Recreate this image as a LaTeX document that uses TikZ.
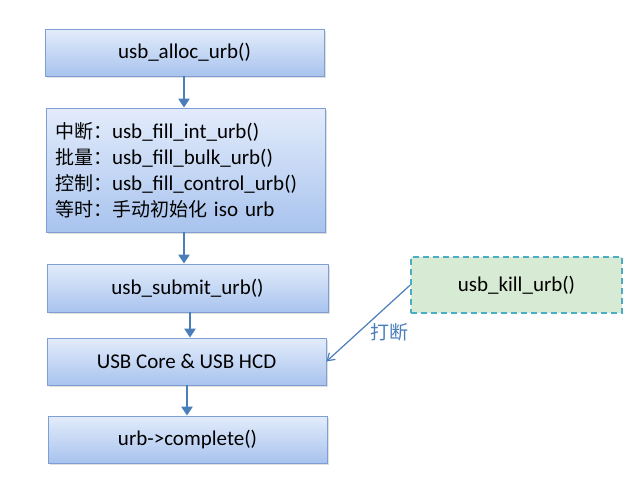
\documentclass[tikz,border=0pt]{standalone}
\usepackage{fontspec}
\setmainfont{Carlito}
\newfontfamily\cjk{Noto Sans CJK SC}
\usetikzlibrary{arrows.meta,shadows}
\definecolor{boxtop}{HTML}{E3ECFB}
\definecolor{boxbot}{HTML}{A8C3EE}
\definecolor{boxline}{HTML}{7F9FD3}
\definecolor{arr}{HTML}{4A7EBB}
\definecolor{killfill}{HTML}{D7EAD3}
\definecolor{killline}{HTML}{4BACC6}
\begin{document}
\begin{tikzpicture}[x=1pt,y=-1pt,
  box/.style={draw=boxline,line width=0.8pt,top color=boxtop,bottom color=boxbot,
    drop shadow={opacity=0.25,shadow xshift=1.5pt,shadow yshift=-1.5pt},
    minimum width=279pt,minimum height=47pt,inner sep=0pt,font=\fontsize{21}{24}\selectfont},
  flow/.style={draw=arr,line width=2.5pt,-{Triangle[length=9pt,width=11pt]}}]
\useasboundingbox (0,0) rectangle (640,490);
\node[box] (alloc) at (184.5,52.5) {usb\_alloc\_urb()};
\node[box,minimum height=124pt,align=left,text width=262pt,
  font=\fontsize{21}{26}\selectfont] (fill) at (186,170)
  {{\cjk\fontsize{19}{26}\selectfont 中断：}usb\_fill\_int\_urb()\\
   {\cjk\fontsize{19}{26}\selectfont 批量：}usb\_fill\_bulk\_urb()\\
   {\cjk\fontsize{19}{26}\selectfont 控制：}usb\_fill\_control\_urb()\\
   {\cjk\fontsize{19}{26}\selectfont 等时：手动初始化} iso urb};
\node[box,minimum width=281pt,minimum height=48pt] (submit) at (187.5,288) {usb\_submit\_urb()};
\node[box] (core) at (186.5,361.5) {USB Core \& USB HCD};
\node[box] (complete) at (187.5,439.5) {urb->complete()};
\node[draw=killline,dashed,dash pattern=on 6pt off 4pt,line width=1.5pt,fill=killfill,
  minimum width=211pt,minimum height=56pt,font=\fontsize{21}{24}\selectfont] (kill)
  at (516.5,285) {usb\_kill\_urb()};
\draw[flow] (alloc.south -| 184,0) -- (fill.north -| 184,0);
\draw[flow] (fill.south -| 184,0) -- (submit.north -| 184,0);
\draw[flow] (submit.south -| 190,0) -- (core.north -| 190,0);
\draw[flow] (core.south -| 187,0) -- (complete.north -| 187,0);
\draw[draw=arr,line width=1.2pt,-{Straight Barb[length=7pt,width=9pt]}]
  (kill.west) -- (core.east);
\node[text=arr,font=\cjk\fontsize{19}{22}\selectfont] (lbl) at (389,332) {打断};
\end{tikzpicture}
\end{document}
